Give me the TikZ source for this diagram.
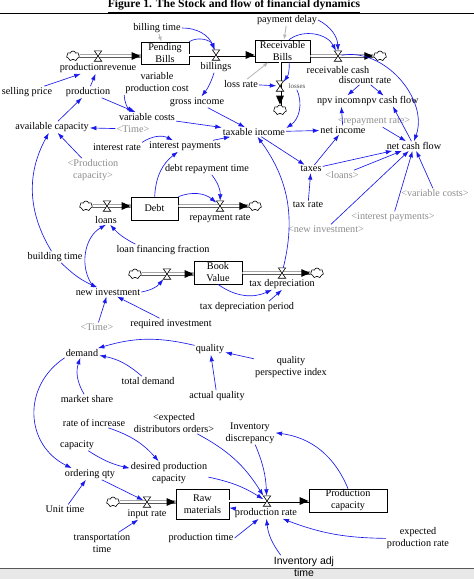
\documentclass[tikz,border=0pt]{standalone}
\usepackage{fontspec}
\setmainfont{Liberation Serif}
\newfontfamily\arialfont{Liberation Sans}
\usetikzlibrary{arrows.meta,shapes.symbols}
\definecolor{linkblue}{RGB}{25,25,235}
\definecolor{ghost}{RGB}{140,140,140}
\tikzset{
  link/.style={linkblue, line width=0.65pt, -{Latex[length=6.5pt,width=4.5pt]}},
  graylink/.style={gray!55, line width=0.9pt, -{Latex[length=5pt,width=4pt]}},
  stock/.style={draw, fill=white, line width=0.7pt, inner sep=0pt},
  ghostvar/.style={text=ghost},
  cloudy/.style={cloud, cloud puffs=7, aspect=1.3, draw, fill=white, line width=0.6pt,
    minimum width=13pt, minimum height=10pt, inner sep=0pt},
  valvenode/.style={minimum width=7pt, minimum height=10pt, inner sep=0pt},
  pipe/.style={draw, double, double distance=1.8pt, line width=0.6pt},
  pipetip/.style={white, line width=1.2pt, -{Triangle[length=9pt,width=7.5pt,black]}},
}
\begin{document}
\begin{tikzpicture}[x=1pt, y=-1pt, font=\fontsize{10.2}{12}\selectfont,
    every node/.style={align=center, inner sep=1pt}]
  \useasboundingbox (0,0) rectangle (474,579);
  \fill[gray!18] (0,568) rectangle (474,579);
  \draw[gray!70!black, line width=0.8pt] (0,568) -- (474,568);
  \draw[line width=0.8pt] (0,13) -- (474,13);
  \node[font=\fontsize{11.6}{13}\selectfont] (title) at (234,6) {\bfseries\underline{Figure 1. The Stock and flow of financial dynamics}};

  % stocks
  \draw
    (165,53) node[stock, minimum width=48pt, minimum height=22pt] (pb) {Pending\\Bills}
    (282.5,51) node[stock, minimum width=55pt, minimum height=22pt] (rb) {Receivable\\Bills}
    (154.5,208.5) node[stock, minimum width=47pt, minimum height=23pt] (debt) {Debt}
    (218,272.5) node[stock, minimum width=48pt, minimum height=23pt] (bv) {Book\\Value}
    (202.5,504) node[stock, minimum width=53pt, minimum height=30pt] (rm) {Raw\\materials}
    (348,500.5) node[stock, minimum width=78pt, minimum height=23pt] (pc) {Production\\capacity};

  % clouds and valves
  \draw
    (73,56) node[cloudy] (c1) {}
    (380,56) node[cloudy] (c2) {}
    (280,110) node[cloudy] (c3) {}
    (86,206) node[cloudy] (c4) {}
    (255,206) node[cloudy] (c5) {}
    (135,274) node[cloudy] (c6) {}
    (317,273) node[cloudy] (c7) {}
    (113,502) node[cloudy] (c8) {}
    (98,56) node[valvenode] (v1) {}
    (216,55) node[valvenode] (v2) {}
    (338,56) node[valvenode] (v3) {}
    (280,86) node[valvenode] (v4) {}
    (107,206) node[valvenode] (v5) {}
    (220,206) node[valvenode] (v6) {}
    (167,274) node[valvenode] (v7) {}
    (282,273) node[valvenode] (v8) {}
    (147,502) node[valvenode] (v9) {}
    (267,501) node[valvenode] (v10) {};

  % variables
  \draw
    (157,28) node (bt) {billing time}
    (287,20) node (pd) {payment delay}
    (98,68) node (prl) {productionrevenue}
    (216,67) node (bil) {billings}
    (338,70) node (rcl) {receivable cash}
    (241,84) node (lr) {loss rate}
    (297,86) node[font=\fontsize{7}{8}\selectfont, text=gray!60!black] (lsl) {losses}
    (365,80) node (dr) {discount rate}
    (341,101) node (npvi) {npv income}
    (390,101) node[fill=white, inner sep=0.5pt] (npvc) {npv cash flow}
    (27,92) node (sp) {selling price}
    (88,92) node (prod) {production}
    (157,83) node (vpc) {variable\\production cost}
    (197,102) node (gi) {gross income}
    (147,117) node (vc) {variable costs}
    (52,127) node (ac) {available capacity}
    (133,129) node[ghostvar] (time1) {<Time>}
    (374,122) node[ghostvar] (rrs) {<repayment rate>}
    (254,132) node (ti) {taxable income}
    (343,130) node (ni) {net income}
    (117,147) node (ir) {interest rate}
    (185,146) node (ip) {interest payments}
    (414,146) node (ncf) {net cash flow}
    (93,170) node[ghostvar] (pcs) {<Production\\capacity>}
    (207,169) node (drt) {debt repayment time}
    (311,169) node (tx) {taxes}
    (342,175) node[ghostvar] (ls) {<loans>}
    (435,193) node[ghostvar] (vcs) {<variable costs>}
    (308,205) node (tr) {tax rate}
    (393,217) node[ghostvar] (ips) {<interest payments>}
    (326,229) node[ghostvar] (nis) {<new investment>}
    (106,220) node (lnl) {loans}
    (220,219) node (rrl) {repayment rate}
    (163,250) node (lff) {loan financing fraction}
    (55,257) node (bdt) {building time}
    (282,284) node (tdl) {tax depreciation}
    (108,292) node (nw) {new investment}
    (247,307) node (tdp) {tax depreciation period}
    (97,327) node[ghostvar] (time2) {<Time>}
    (171,324) node (ri) {required investment}
    (82,353) node (dm) {demand}
    (210,349) node (q) {quality}
    (291,367) node (qpi) {quality\\perspective index}
    (148,381) node (td) {total demand}
    (87,399) node (ms) {market share}
    (217,396) node (aq) {actual quality}
    (94,423) node (roi) {rate of increase}
    (174,423) node (edo) {<expected\\distributors orders>}
    (250,433) node (idc) {Inventory\\discrepancy}
    (77,445) node (cap) {capacity}
    (169,473) node (dpc) {desired production\\capacity}
    (90,474) node (oq) {ordering qty}
    (65,509) node (ut) {Unit time}
    (147,514) node (irl) {input rate}
    (266,513) node (prrl) {production rate}
    (201,538) node (pt) {production time}
    (102,543) node (tt) {transportation\\time}
    (418,538) node (epr) {expected\\production rate}
    (304,566.5) node[font=\arialfont\fontsize{10.5}{12.5}\selectfont] (iat) {Inventory adj\\time};

  % pipes
  \draw[pipe] (c1) -- (v1.center) -- (pb.west |- v1);
  \draw[pipe] (pb.east |- v2) -- (v2.center) -- (rb.west |- v2);
  \draw[pipe] (rb.east |- v3) -- (v3.center) -- (c2);
  \draw[pipe] (rb.south -| v4) -- (v4.center) -- (c3);
  \draw[pipe] (c4) -- (v5.center) -- (debt.west |- v5);
  \draw[pipe] (debt.east |- v6) -- (v6.center) -- (c5);
  \draw[pipe] (c6) -- (v7.center) -- (bv.west |- v7);
  \draw[pipe] (bv.east |- v8) -- (v8.center) -- (c7);
  \draw[pipe] (c8) -- (v9.center) -- (rm.west |- v9);
  \draw[pipe] (rm.east |- v10) -- (v10.center) -- (pc.west |- v10);
  \begin{scope}[pipetip]
    \draw (v1.center) -- (pb.west |- v1);
    \draw (v2.center) -- (rb.west |- v2);
    \draw (v3.center) -- (c2);
    \draw (v4.center) -- (c3);
    \draw (v5.center) -- (debt.west |- v5);
    \draw (v6.center) -- (c5);
    \draw (v7.center) -- (bv.west |- v7);
    \draw (v8.center) -- (c7);
    \draw (v9.center) -- (rm.west |- v9);
    \draw (v10.center) -- (pc.west |- v10);
  \end{scope}
  \foreach \v in {v1,v2,v3,v4,v5,v6,v7,v8,v9,v10}
    \draw[fill=white, line width=0.6pt] (\v.north west) -- (\v.north east)
      -- (\v.south west) -- (\v.south east) -- cycle;

  % initial value links
  \begin{scope}[graylink]
    \draw (bt) -- (pb);
    \draw (pd) -- (rb);
    \draw (lr) -- (rb);
  \end{scope}

  % causal links
  \begin{scope}[link]
    \draw (bt.east) to[bend left=35] (v2);
    \draw (pb.north east) to[bend left=50] (v2);
    \draw (bil) to[bend left=10] (gi);
    \draw (pd.east) to[bend left=30] (v3);
    \draw (rb.60) to[bend left=50] (v3);
    \draw (rb.-60) to[bend left=20] (v4);
    \draw (lr) -- (v4);
    \draw (lsl) to[bend left=40] (ti);
    \draw (v3) to[bend left=60] (ncf.north);
    \draw (dr) -- (npvi);
    \draw (dr) -- (npvc);
    \draw (ni) -- (npvi);
    \draw (ncf) -- (npvc);
    \draw (rrs) -- (ncf);
    \draw (ti) -- (ni);
    \draw (ac) -- (prod);
    \draw (prod) -- (prl);
    \draw (sp) -- (prl);
    \draw (prod) -- (vc);
    \draw (vpc.south west) to[bend right=25] (vc);
    \draw (vc) -- (ti);
    \draw (gi) -- (ti);
    \draw (ip) -- (ti);
    \draw (ir.north east) to[bend left=30] ([xshift=-12pt]ip.north);
    \draw (time1) -- (ac);
    \draw (pcs) -- (ac);
    \draw (bdt) to[bend left=30] (ac);
    \draw (bdt) to[bend right=10] (nw);
    \draw (debt) to[bend left=25] (ip);
    \draw (drt) to[bend left=20] (v6);
    \draw (debt.north east) to[bend left=30] (v6);
    \draw ([xshift=20pt]lff.north west) to[bend left=10] (lnl);
    \draw ([xshift=-14pt]nw.north) to[bend left=50] (lnl.south);
    \draw (nw.east) to[bend right=20] (v7);
    \draw (bv.south) to[bend right=30] (tdl);
    \draw ([xshift=22pt]tdp.north) -- (tdl.south);
    \draw (v8) to[bend right=25] (ti);
    \draw (ti) -- (tx);
    \draw (tx) -- (ni);
    \draw (tx) -- (ncf);
    \draw (ls) -- (ncf);
    \draw (nis) -- (ncf);
    \draw (ips) -- (ncf);
    \draw (vcs) -- (ncf);
    \draw (tr) -- (tx);
    \draw (time2) -- (nw);
    \draw (ri) -- (nw);
    \draw (q) to[bend right=15] (dm);
    \draw (td) to[bend right=15] (dm);
    \draw (ms) to[bend left=25] (dm);
    \draw (aq) -- (q);
    \draw (qpi) -- (q);
    \draw (dm.south west) to[bend right=60, looseness=1.2] ([xshift=8pt]oq.north west);
    \draw (cap) to[bend right=10] (dpc);
    \draw (roi) to[bend left=15] (dpc);
    \draw (ut) -- (oq);
    \draw (oq) -- (v9);
    \draw (tt) -- (irl);
    \draw (edo) to[bend left=15] (v10);
    \draw (idc) to[bend left=10] (v10);
    \draw (pc.north) to[bend right=30] (idc);
    \draw (dpc) to[bend left=10] (v10);
    \draw (pt.east) -- (prrl);
    \draw ([xshift=8pt]iat.north west) to[bend left=15] (prrl);
    \draw (epr) to[bend left=10] (prrl);
    \draw (prrl) -- (rm);
  \end{scope}
\end{tikzpicture}
\end{document}
